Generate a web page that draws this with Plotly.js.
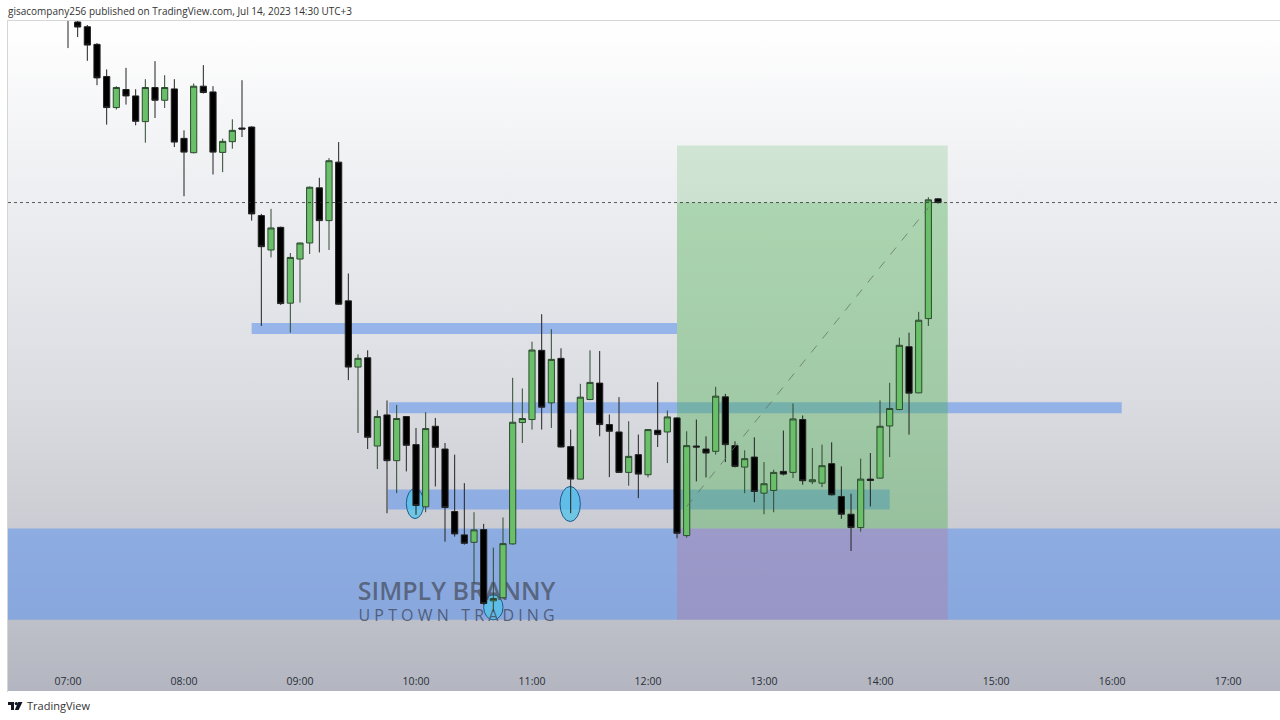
<!DOCTYPE html>
<html>
<head>
<meta charset="utf-8">
<script src="https://cdn.plot.ly/plotly-3.0.1.min.js"></script>
<style>
html,body{margin:0;padding:0;background:#fff;width:1280px;height:720px;overflow:hidden;font-family:'Open Sans',sans-serif;}
#hdr{position:absolute;left:8px;top:4px;font-size:10px;color:#333;white-space:nowrap;}
#frame{position:absolute;left:7px;top:20px;width:1273px;height:671px;border-left:1px solid #d6d6d6;border-top:1px solid #d6d6d6;}
#wrap{position:absolute;left:8px;top:21px;width:1272px;height:670px;background:linear-gradient(to bottom,#ffffff 0%,#eeeff2 25%,#dcdde2 55%,#c7c9d0 80%,#b3b6c0 100%);}
#chart{width:1272px;height:670px;}
#foot{position:absolute;left:8px;top:698px;font-size:11px;color:#333;display:flex;align-items:center;gap:4px;}
</style>
</head>
<body>
<div id="hdr">gisacompany256 published on TradingView.com, Jul 14, 2023 14:30 UTC+3</div>
<div id="frame"></div>
<div id="wrap"><div id="chart"></div></div>
<div id="foot">
<svg width="15" height="10" viewBox="0 0 15 10"><path d="M0 1H6V9H3V4H0Z" fill="#131722"/><circle cx="8.3" cy="2.6" r="1.6" fill="#131722"/><path d="M10.2 1H14.5L10.6 9H6.8Z" fill="#131722"/></svg>
<span>TradingView</span>
</div>
<script>
// ---- data (5-minute candles, Jul 14 2023) ----
const day = '2023-07-14 ';
const times = [
 '07:00','07:05','07:10','07:15','07:20','07:25','07:30','07:35','07:40','07:45','07:50','07:55',
 '08:00','08:05','08:10','08:15','08:20','08:25','08:30','08:35','08:40','08:45','08:50','08:55',
 '09:00','09:05','09:10','09:15','09:20','09:25','09:30','09:35','09:40','09:45','09:50','09:55',
 '10:00','10:05','10:10','10:15','10:20','10:25','10:30','10:35','10:40','10:45','10:50','10:55',
 '11:00','11:05','11:10','11:15','11:20','11:25','11:30','11:35','11:40','11:45','11:50','11:55',
 '12:00','12:05','12:10','12:15','12:20','12:25','12:30','12:35','12:40','12:45','12:50','12:55',
 '13:00','13:05','13:10','13:15','13:20','13:25','13:30','13:35','13:40','13:45','13:50','13:55',
 '14:00','14:05','14:10','14:15','14:20','14:25','14:30'
];
const openP = [
 690,678,673.3,655.7,623.7,592.7,610.7,604.3,578.7,612.7,600,611.3,
 562,547.7,614,608.3,548,558.7,572.3,573.3,485,450.7,473.3,397.7,
 441.7,457.7,512.7,480,538.3,400,334,343.3,255.3,286.3,240.7,284.7,
 256.7,194.7,275,252.3,190,166.7,159.3,172,101,104,157.7,278.7,
 281.7,350.7,298.3,342.7,254.7,222.3,301.7,318,276.7,269.3,229,246.7,
 226.7,271,269.3,283.3,166,255.3,252.3,250,304.3,255.7,234.3,244.3,
 208.3,211,230,229,281.7,219.7,218.3,237.7,205,187.3,174,222.3,
 223.3,275.3,291.7,354.3,308.3,382.3,501.7
];
const highP = [
 695,679,675,657,630.7,614,632.3,611,621,639,625,621,
 570,616.7,635,614,561.7,581,620,574,486.7,491.7,474,447.7,
 458,514,522.7,542.3,558.3,427.3,346.7,350.7,291,300.7,296.3,285,
 273.3,289,283.3,258.3,246.7,218.3,189.3,177.7,154,184,323.3,312.7,
 359.3,386.7,371.7,352.7,271.7,317.3,350.7,350,286.7,304,280,266.7,
 272,319,290.7,284,270,281.7,265,314.3,307.3,260,251,264,
 239.3,231.7,270.7,297.7,285.7,253.3,256.7,259,235,207.7,242.7,248.3,
 300.7,318.3,363.3,368.3,389,503.3,502
];
const lowP = [
 652,663,639.3,615,575.7,590.7,595.7,575,557.7,582.3,592.3,553.3,
 504.3,547,606.7,526,528.3,551.7,563.3,480,375,443.3,396,368.3,
 398.3,446.7,448.3,450.7,396,321,268.3,252.3,232.3,188.3,208.3,230,
 186.7,189.3,215,160,165,157,118.3,97,90,103,157,258.3,
 271.7,271.7,273.3,254,188.3,222,301,265,224.3,228.5,215.7,203.3,
 224,254.3,238.3,163.3,164,220,224,246.7,239.3,234,208.3,199.3,
 187.3,189.3,226,223.3,216.7,217.3,214.3,206,182.7,150.7,170,195,
 223,244.3,291,266.7,308,375,497
];
const closeP = [
 684,673,655,622.3,592.7,612.7,604.3,579,612.7,600,612.7,558.3,
 548.3,614,607.7,548.3,559,570,571.3,486.7,454,472.7,397.3,443.3,
 457.7,513.3,480,539.7,396.7,334,342.7,264,284.7,240.7,282.7,256,
 196,272.7,254,194,167.7,158.3,171.7,98.3,103.3,158,279,282.7,
 351,294,341.7,254.3,222.3,304,318.7,276.7,270,229,245,227.3,
 271.7,266.7,284.3,168.3,255.7,254.3,248.3,305,256.7,235,242.7,210,
 217.7,229,227.3,282.3,220.7,221.7,235.7,206.7,187.3,174,222.3,221,
 275,292.7,355.7,308,380.7,500.7,498
];
const tickTimes = ['07:00','08:00','09:00','10:00','11:00','12:00','13:00','14:00','15:00','16:00','17:00'];

// drawn levels (zones)
const demandZone = [82, 173];
const levelA = {from:'08:35', to:'12:15', lo:367, hi:378};
const levelB = {from:'09:46', to:'16:05', lo:288, hi:299};
const levelC = {from:'09:45:30', to:'14:05', lo:192, hi:212};
const pos = {from:'12:15', to:'14:35', target:555, entry:173, stop:82, last:498};
const rings = [
 {from:'09:55', to:'10:04', lo:183, hi:213},
 {from:'11:14:30', to:'11:25', lo:180, hi:215},
 {from:'10:35', to:'10:45', lo:82, hi:107}
];

const X = t => day + t;
const blue = 'rgba(100,150,235,0.6)';
const shapes = [];
function rect(x0, x1, y0, y1, fill, xref) {
  shapes.push({type:'rect', layer:'below', xref: xref || 'x', yref:'y',
    x0: x0, x1: x1, y0: y0, y1: y1, fillcolor: fill, line:{width:0}});
}
rect(0, 1, demandZone[0], demandZone[1], blue, 'paper');
rect(X(levelA.from), X(levelA.to), levelA.lo, levelA.hi, blue);
rect(X(levelB.from), X(levelB.to), levelB.lo, levelB.hi, blue);
rect(X(levelC.from), X(levelC.to), levelC.lo, levelC.hi, blue);
rings.forEach(r => shapes.push({type:'circle', layer:'below', xref:'x', yref:'y',
  x0:X(r.from), x1:X(r.to), y0:r.lo, y1:r.hi,
  fillcolor:'rgba(80,195,232,0.75)', line:{color:'#1f5a8c', width:1}}));
// long position tool
rect(X(pos.from), X(pos.to), pos.entry, pos.target, 'rgba(76,175,80,0.2)');
rect(X(pos.from), X(pos.to), pos.entry, pos.last, 'rgba(76,175,80,0.25)');
rect(X(pos.from), X(pos.to), pos.stop, pos.entry, 'rgba(242,54,69,0.15)');
// watermark (under candles)
shapes.push({type:'rect', layer:'below', xref:'x', yref:'y',
  x0:X('09:40'), x1:X('11:02'), y0:98, y1:122, fillcolor:'rgba(0,0,0,0)', line:{width:0},
  label:{text:'SIMPLY BRANNY', textposition:'middle center',
    font:{family:'Open Sans', size:25, weight:600, color:'rgba(80,90,112,0.85)'}}});
shapes.push({type:'rect', layer:'below', xref:'x', yref:'y',
  x0:X('09:40'), x1:X('11:02'), y0:78, y1:94, fillcolor:'rgba(0,0,0,0)', line:{width:0},
  label:{text:'U P T O W N   T R A D I N G', textposition:'middle center',
    font:{family:'Open Sans', size:16, color:'rgba(75,85,108,0.9)'}}});
// path of the trade and last price line
shapes.push({type:'line', xref:'x', yref:'y', x0:X('12:20'), y0:195, x1:X('14:25'), y1:493,
  line:{color:'rgba(95,115,95,0.75)', width:1, dash:'dash'}});
shapes.push({type:'line', xref:'paper', yref:'y', x0:0, x1:1, y0:pos.last, y1:pos.last,
  line:{color:'rgba(40,40,40,0.75)', width:1, dash:'dot'}});

const trace = {
  type:'candlestick',
  x: times.map(X), open: openP, high: highP, low: lowP, close: closeP,
  increasing:{fillcolor:'#6abf69', line:{color:'#2e4a30', width:1}},
  decreasing:{fillcolor:'#000000', line:{color:'#222222', width:1}},
  whiskerwidth:0, hoverinfo:'skip', showlegend:false
};

const layout = {
  width:1272, height:670,
  margin:{l:0, r:0, t:0, b:25},
  paper_bgcolor:'rgba(0,0,0,0)', plot_bgcolor:'rgba(0,0,0,0)',
  showlegend:false,
  boxgap:0.15, boxgroupgap:0.25,
  xaxis:{type:'date', range:[X('06:28:58'), X('17:26:53')],
    rangeslider:{visible:false}, showgrid:false, zeroline:false, showline:false,
    tickmode:'array', tickvals: tickTimes.map(X), ticktext: tickTimes,
    ticks:'', ticklabelstandoff:7, tickfont:{family:'Open Sans', size:10.5, color:'#2a2e39'}},
  yaxis:{range:[36, 679], showgrid:false, zeroline:false, showticklabels:false, showline:false, fixedrange:true},
  shapes: shapes
};
Plotly.newPlot('chart', [trace], layout, {staticPlot:true, displayModeBar:false});
</script>
</body>
</html>
